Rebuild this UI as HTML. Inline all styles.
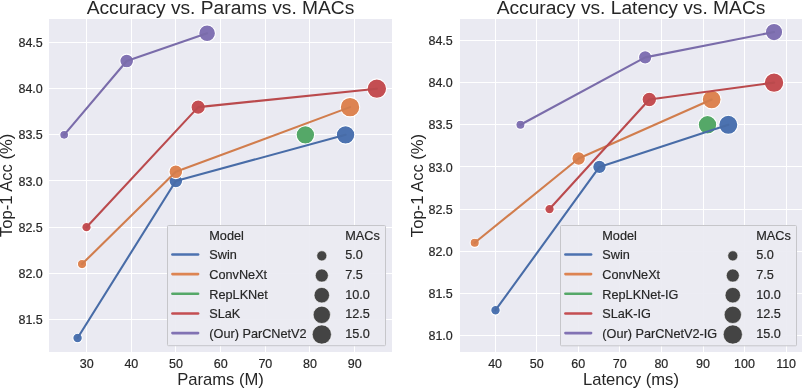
<!DOCTYPE html>
<html><head><meta charset="utf-8"><style>
html,body{margin:0;padding:0;background:#fff;}
svg{display:block;will-change:transform;}
text{font-family:"Liberation Sans",sans-serif;fill:#262626;}
.t,.lg{stroke:#262626;stroke-width:0.18px;}
.t{font-size:12.5px;}
.ti{font-size:19.2px;}
.lb{font-size:16.6px;}
.lg{font-size:12.7px;}
</style></head><body>
<svg width="806" height="389" viewBox="0 0 806 389">
<rect width="806" height="389" fill="#fff"/>
<rect x="49" y="19" width="343" height="333" fill="#EAEAF2"/>
<line x1="86.5" y1="19" x2="86.5" y2="352" stroke="#fff" stroke-width="1"/>
<line x1="131.5" y1="19" x2="131.5" y2="352" stroke="#fff" stroke-width="1"/>
<line x1="175.5" y1="19" x2="175.5" y2="352" stroke="#fff" stroke-width="1"/>
<line x1="220.5" y1="19" x2="220.5" y2="352" stroke="#fff" stroke-width="1"/>
<line x1="265.5" y1="19" x2="265.5" y2="352" stroke="#fff" stroke-width="1"/>
<line x1="309.5" y1="19" x2="309.5" y2="352" stroke="#fff" stroke-width="1"/>
<line x1="354.5" y1="19" x2="354.5" y2="352" stroke="#fff" stroke-width="1"/>
<line x1="49" y1="319.5" x2="392" y2="319.5" stroke="#fff" stroke-width="1"/>
<line x1="49" y1="273.5" x2="392" y2="273.5" stroke="#fff" stroke-width="1"/>
<line x1="49" y1="227.5" x2="392" y2="227.5" stroke="#fff" stroke-width="1"/>
<line x1="49" y1="180.5" x2="392" y2="180.5" stroke="#fff" stroke-width="1"/>
<line x1="49" y1="134.5" x2="392" y2="134.5" stroke="#fff" stroke-width="1"/>
<line x1="49" y1="88.5" x2="392" y2="88.5" stroke="#fff" stroke-width="1"/>
<line x1="49" y1="42.5" x2="392" y2="42.5" stroke="#fff" stroke-width="1"/>
<text x="86.7" y="368.2" text-anchor="middle" class="t">30</text>
<text x="131.37" y="368.2" text-anchor="middle" class="t">40</text>
<text x="176.03" y="368.2" text-anchor="middle" class="t">50</text>
<text x="220.7" y="368.2" text-anchor="middle" class="t">60</text>
<text x="265.37" y="368.2" text-anchor="middle" class="t">70</text>
<text x="310.03" y="368.2" text-anchor="middle" class="t">80</text>
<text x="354.7" y="368.2" text-anchor="middle" class="t">90</text>
<text x="42.8" y="324.1" text-anchor="end" class="t">81.5</text>
<text x="42.8" y="277.93" text-anchor="end" class="t">82.0</text>
<text x="42.8" y="231.77" text-anchor="end" class="t">82.5</text>
<text x="42.8" y="185.6" text-anchor="end" class="t">83.0</text>
<text x="42.8" y="139.43" text-anchor="end" class="t">83.5</text>
<text x="42.8" y="93.27" text-anchor="end" class="t">84.0</text>
<text x="42.8" y="47.1" text-anchor="end" class="t">84.5</text>
<text x="220.5" y="14" text-anchor="middle" class="ti">Accuracy vs. Params vs. MACs</text>
<text x="220.5" y="384.5" text-anchor="middle" class="lb">Params (M)</text>
<circle cx="77.57" cy="337.97" r="4.75" fill="#4C72B0" stroke="#fff" stroke-width="1.1"/>
<circle cx="175.83" cy="181" r="6.8" fill="#4C72B0" stroke="#fff" stroke-width="1.1"/>
<circle cx="345.57" cy="134.83" r="9.25" fill="#4C72B0" stroke="#fff" stroke-width="1.1"/>
<circle cx="82.03" cy="264.1" r="4.6" fill="#DD8452" stroke="#fff" stroke-width="1.1"/>
<circle cx="175.83" cy="171.77" r="6.83" fill="#DD8452" stroke="#fff" stroke-width="1.1"/>
<circle cx="350.03" cy="107.13" r="9.75" fill="#DD8452" stroke="#fff" stroke-width="1.1"/>
<circle cx="305.37" cy="134.83" r="9.25" fill="#55A868" stroke="#fff" stroke-width="1.1"/>
<circle cx="86.5" cy="227.17" r="4.7" fill="#C44E52" stroke="#fff" stroke-width="1.1"/>
<circle cx="198.17" cy="107.13" r="7.15" fill="#C44E52" stroke="#fff" stroke-width="1.1"/>
<circle cx="376.83" cy="88.67" r="9.75" fill="#C44E52" stroke="#fff" stroke-width="1.1"/>
<circle cx="64.17" cy="134.83" r="4.4" fill="#8172B3" stroke="#fff" stroke-width="1.1"/>
<circle cx="126.7" cy="60.97" r="6.83" fill="#8172B3" stroke="#fff" stroke-width="1.1"/>
<circle cx="207.1" cy="33.27" r="8.35" fill="#8172B3" stroke="#fff" stroke-width="1.1"/>
<polyline points="77.57,337.97 175.83,181 345.57,134.83" fill="none" stroke="#486CA7" stroke-width="2.1" stroke-linecap="round" stroke-linejoin="round"/>
<polyline points="82.03,264.1 175.83,171.77 350.03,107.13" fill="none" stroke="#D17D4D" stroke-width="2.1" stroke-linecap="round" stroke-linejoin="round"/>
<polyline points="86.5,227.17 198.17,107.13 376.83,88.67" fill="none" stroke="#BA4A4D" stroke-width="2.1" stroke-linecap="round" stroke-linejoin="round"/>
<polyline points="64.17,134.83 126.7,60.97 207.1,33.27" fill="none" stroke="#7A6CAA" stroke-width="2.1" stroke-linecap="round" stroke-linejoin="round"/>
<rect x="167.5" y="225.5" width="218.0" height="120.19999999999999" rx="1" fill="#EAEAF2" fill-opacity="0.92" stroke="#C6C6CA" stroke-width="1"/>
<text x="209.3" y="239.7" class="lg">Model</text>
<text x="345.2" y="239.7" class="lg">MACs</text>
<line x1="172.4" y1="254.46" x2="198.1" y2="254.46" stroke="#4C72B0" stroke-width="2.6" stroke-linecap="round"/>
<text x="209.3" y="259.36" class="lg">Swin</text>
<circle cx="321.8" cy="255.86" r="5.05" fill="#444444" stroke="#fff" stroke-width="0.6"/>
<text x="345.2" y="259.36" class="lg">5.0</text>
<line x1="172.4" y1="274.12" x2="198.1" y2="274.12" stroke="#DD8452" stroke-width="2.6" stroke-linecap="round"/>
<text x="209.3" y="279.02" class="lg">ConvNeXt</text>
<circle cx="321.8" cy="275.52" r="6.55" fill="#444444" stroke="#fff" stroke-width="0.6"/>
<text x="345.2" y="279.02" class="lg">7.5</text>
<line x1="172.4" y1="293.78" x2="198.1" y2="293.78" stroke="#55A868" stroke-width="2.6" stroke-linecap="round"/>
<text x="209.3" y="298.68" class="lg">RepLKNet</text>
<circle cx="321.8" cy="295.18" r="7.75" fill="#444444" stroke="#fff" stroke-width="0.6"/>
<text x="345.2" y="298.68" class="lg">10.0</text>
<line x1="172.4" y1="313.44" x2="198.1" y2="313.44" stroke="#C44E52" stroke-width="2.6" stroke-linecap="round"/>
<text x="209.3" y="318.34" class="lg">SLaK</text>
<circle cx="321.8" cy="314.84" r="8.65" fill="#444444" stroke="#fff" stroke-width="0.6"/>
<text x="345.2" y="318.34" class="lg">12.5</text>
<line x1="172.4" y1="333.1" x2="198.1" y2="333.1" stroke="#8172B3" stroke-width="2.6" stroke-linecap="round"/>
<text x="209.3" y="338" class="lg">(Our) ParCNetV2</text>
<circle cx="321.8" cy="334.5" r="9.6" fill="#444444" stroke="#fff" stroke-width="0.6"/>
<text x="345.2" y="338" class="lg">15.0</text>
<rect x="460" y="19" width="342" height="333" fill="#EAEAF2"/>
<line x1="495.5" y1="19" x2="495.5" y2="352" stroke="#fff" stroke-width="1"/>
<line x1="536.5" y1="19" x2="536.5" y2="352" stroke="#fff" stroke-width="1"/>
<line x1="578.5" y1="19" x2="578.5" y2="352" stroke="#fff" stroke-width="1"/>
<line x1="619.5" y1="19" x2="619.5" y2="352" stroke="#fff" stroke-width="1"/>
<line x1="661.5" y1="19" x2="661.5" y2="352" stroke="#fff" stroke-width="1"/>
<line x1="703.5" y1="19" x2="703.5" y2="352" stroke="#fff" stroke-width="1"/>
<line x1="744.5" y1="19" x2="744.5" y2="352" stroke="#fff" stroke-width="1"/>
<line x1="786.5" y1="19" x2="786.5" y2="352" stroke="#fff" stroke-width="1"/>
<line x1="460" y1="335.5" x2="802" y2="335.5" stroke="#fff" stroke-width="1"/>
<line x1="460" y1="293.5" x2="802" y2="293.5" stroke="#fff" stroke-width="1"/>
<line x1="460" y1="251.5" x2="802" y2="251.5" stroke="#fff" stroke-width="1"/>
<line x1="460" y1="209.5" x2="802" y2="209.5" stroke="#fff" stroke-width="1"/>
<line x1="460" y1="166.5" x2="802" y2="166.5" stroke="#fff" stroke-width="1"/>
<line x1="460" y1="124.5" x2="802" y2="124.5" stroke="#fff" stroke-width="1"/>
<line x1="460" y1="82.5" x2="802" y2="82.5" stroke="#fff" stroke-width="1"/>
<line x1="460" y1="40.5" x2="802" y2="40.5" stroke="#fff" stroke-width="1"/>
<text x="495.1" y="368.2" text-anchor="middle" class="t">40</text>
<text x="536.67" y="368.2" text-anchor="middle" class="t">50</text>
<text x="578.24" y="368.2" text-anchor="middle" class="t">60</text>
<text x="619.81" y="368.2" text-anchor="middle" class="t">70</text>
<text x="661.39" y="368.2" text-anchor="middle" class="t">80</text>
<text x="702.96" y="368.2" text-anchor="middle" class="t">90</text>
<text x="744.53" y="368.2" text-anchor="middle" class="t">100</text>
<text x="786.1" y="368.2" text-anchor="middle" class="t">110</text>
<text x="452.8" y="340.1" text-anchor="end" class="t">81.0</text>
<text x="452.8" y="297.96" text-anchor="end" class="t">81.5</text>
<text x="452.8" y="255.81" text-anchor="end" class="t">82.0</text>
<text x="452.8" y="213.67" text-anchor="end" class="t">82.5</text>
<text x="452.8" y="171.53" text-anchor="end" class="t">83.0</text>
<text x="452.8" y="129.39" text-anchor="end" class="t">83.5</text>
<text x="452.8" y="87.24" text-anchor="end" class="t">84.0</text>
<text x="452.8" y="45.1" text-anchor="end" class="t">84.5</text>
<text x="631" y="14" text-anchor="middle" class="ti">Accuracy vs. Latency vs. MACs</text>
<text x="631" y="384.5" text-anchor="middle" class="lb">Latency (ms)</text>
<circle cx="495.5" cy="310.21" r="4.75" fill="#4C72B0" stroke="#fff" stroke-width="1.1"/>
<circle cx="599.43" cy="166.93" r="6.7" fill="#4C72B0" stroke="#fff" stroke-width="1.1"/>
<circle cx="728.3" cy="124.79" r="9.55" fill="#4C72B0" stroke="#fff" stroke-width="1.1"/>
<circle cx="474.71" cy="242.79" r="4.6" fill="#DD8452" stroke="#fff" stroke-width="1.1"/>
<circle cx="578.64" cy="158.5" r="6.75" fill="#DD8452" stroke="#fff" stroke-width="1.1"/>
<circle cx="711.67" cy="99.5" r="9.4" fill="#DD8452" stroke="#fff" stroke-width="1.1"/>
<circle cx="707.51" cy="124.79" r="9.25" fill="#55A868" stroke="#fff" stroke-width="1.1"/>
<circle cx="549.54" cy="209.07" r="4.7" fill="#C44E52" stroke="#fff" stroke-width="1.1"/>
<circle cx="649.31" cy="99.5" r="7.25" fill="#C44E52" stroke="#fff" stroke-width="1.1"/>
<circle cx="774.03" cy="82.64" r="9.75" fill="#C44E52" stroke="#fff" stroke-width="1.1"/>
<circle cx="520.44" cy="124.79" r="4.55" fill="#8172B3" stroke="#fff" stroke-width="1.1"/>
<circle cx="645.16" cy="57.36" r="6.65" fill="#8172B3" stroke="#fff" stroke-width="1.1"/>
<circle cx="774.03" cy="32.07" r="8.65" fill="#8172B3" stroke="#fff" stroke-width="1.1"/>
<polyline points="495.5,310.21 599.43,166.93 728.3,124.79" fill="none" stroke="#486CA7" stroke-width="2.1" stroke-linecap="round" stroke-linejoin="round"/>
<polyline points="474.71,242.79 578.64,158.5 711.67,99.5" fill="none" stroke="#D17D4D" stroke-width="2.1" stroke-linecap="round" stroke-linejoin="round"/>
<polyline points="549.54,209.07 649.31,99.5 774.03,82.64" fill="none" stroke="#BA4A4D" stroke-width="2.1" stroke-linecap="round" stroke-linejoin="round"/>
<polyline points="520.44,124.79 645.16,57.36 774.03,32.07" fill="none" stroke="#7A6CAA" stroke-width="2.1" stroke-linecap="round" stroke-linejoin="round"/>
<rect x="560.5" y="225.5" width="236.0" height="120.30000000000001" rx="1" fill="#EAEAF2" fill-opacity="0.92" stroke="#C6C6CA" stroke-width="1"/>
<text x="602.3" y="239.7" class="lg">Model</text>
<text x="756.2" y="239.7" class="lg">MACs</text>
<line x1="565.4" y1="254.46" x2="591.1" y2="254.46" stroke="#4C72B0" stroke-width="2.6" stroke-linecap="round"/>
<text x="602.3" y="259.36" class="lg">Swin</text>
<circle cx="732.8" cy="255.86" r="5.05" fill="#444444" stroke="#fff" stroke-width="0.6"/>
<text x="756.2" y="259.36" class="lg">5.0</text>
<line x1="565.4" y1="274.12" x2="591.1" y2="274.12" stroke="#DD8452" stroke-width="2.6" stroke-linecap="round"/>
<text x="602.3" y="279.02" class="lg">ConvNeXt</text>
<circle cx="732.8" cy="275.52" r="6.55" fill="#444444" stroke="#fff" stroke-width="0.6"/>
<text x="756.2" y="279.02" class="lg">7.5</text>
<line x1="565.4" y1="293.78" x2="591.1" y2="293.78" stroke="#55A868" stroke-width="2.6" stroke-linecap="round"/>
<text x="602.3" y="298.68" class="lg">RepLKNet-IG</text>
<circle cx="732.8" cy="295.18" r="7.75" fill="#444444" stroke="#fff" stroke-width="0.6"/>
<text x="756.2" y="298.68" class="lg">10.0</text>
<line x1="565.4" y1="313.44" x2="591.1" y2="313.44" stroke="#C44E52" stroke-width="2.6" stroke-linecap="round"/>
<text x="602.3" y="318.34" class="lg">SLaK-IG</text>
<circle cx="732.8" cy="314.84" r="8.65" fill="#444444" stroke="#fff" stroke-width="0.6"/>
<text x="756.2" y="318.34" class="lg">12.5</text>
<line x1="565.4" y1="333.1" x2="591.1" y2="333.1" stroke="#8172B3" stroke-width="2.6" stroke-linecap="round"/>
<text x="602.3" y="338" class="lg">(Our) ParCNetV2-IG</text>
<circle cx="732.8" cy="334.5" r="9.6" fill="#444444" stroke="#fff" stroke-width="0.6"/>
<text x="756.2" y="338" class="lg">15.0</text>
<text transform="translate(11.8,185.4) rotate(-90)" text-anchor="middle" class="lb">Top-1 Acc (%)</text>
<text transform="translate(422.8,185.5) rotate(-90)" text-anchor="middle" class="lb">Top-1 Acc (%)</text>
</svg></body></html>
